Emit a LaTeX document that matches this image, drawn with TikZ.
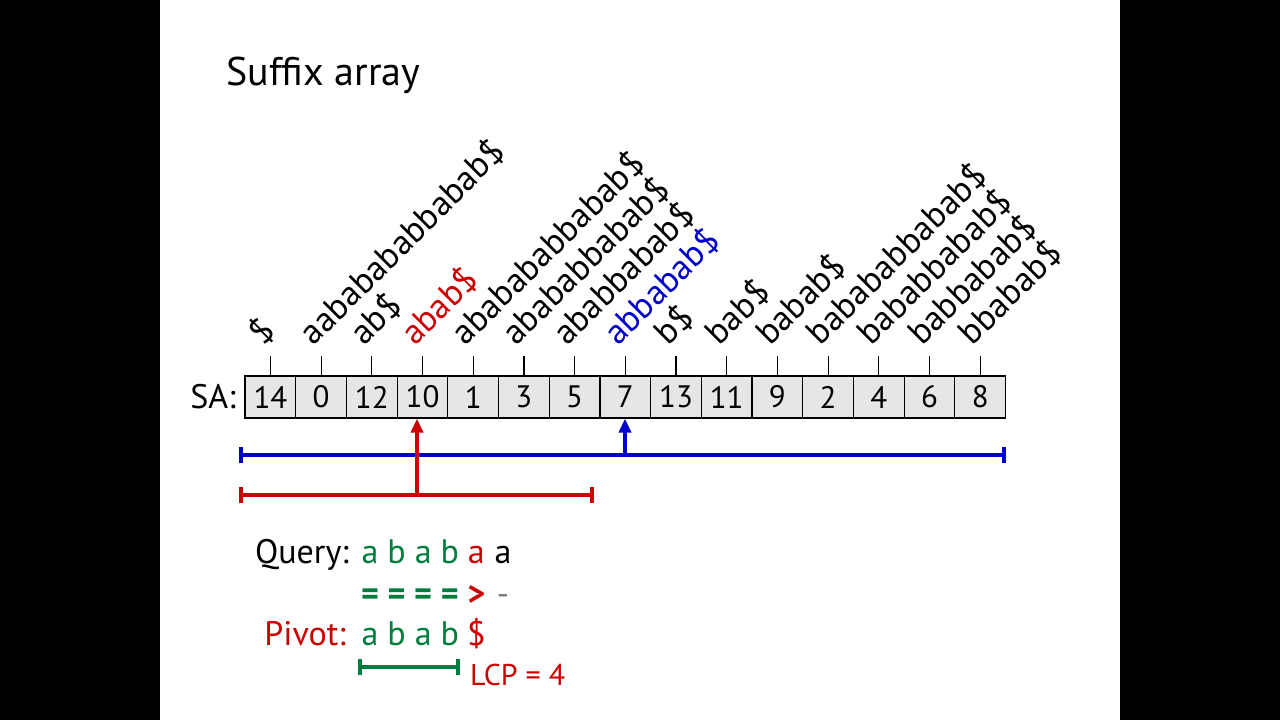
\documentclass[tikz,border=0pt]{standalone}
\usepackage{fontspec}
\setmainfont{PT Sans}
\usetikzlibrary{arrows.meta}
\definecolor{myred}{RGB}{204,0,0}
\definecolor{myblue}{RGB}{0,0,204}
\definecolor{mygreen}{RGB}{0,125,60}
\definecolor{mygray}{RGB}{230,230,230}
\begin{document}
\begin{tikzpicture}[x=1pt,y=-1pt,
  cell/.style={draw,line width=1.2pt,fill=mygray,minimum width=50.7pt,minimum height=42pt,inner sep=0pt,font=\fontsize{31}{31}\selectfont},
  suf/.style={rotate=45,anchor=base west,inner sep=0pt,font=\fontsize{35}{35}\selectfont},
  big/.style={font=\fontsize{34}{34}\selectfont,inner sep=0pt},
  brk/.style={line width=3.5pt},
  arr/.style={line width=3.5pt,-{Triangle[length=14pt,width=12pt]}}]
\useasboundingbox[fill=black] (0,0) rectangle (1280,720);
\fill[white] (160,0) rectangle (1120,720);
\node[anchor=base west,inner sep=0pt,font=\fontsize{40}{40}\selectfont] (title) at (226,85) {Suffix array};
\node[big,anchor=east] (sa) at (236,397) {SA:};
\foreach \v/\s [count=\i from 0] in {14/\$,0/aababababbabab\$,12/ab\$,10/abab\$,1/ababababbabab\$,3/abababbabab\$,5/ababbabab\$,7/abbabab\$,13/b\$,11/bab\$,9/babab\$,2/babababbabab\$,4/bababbabab\$,6/babbabab\$,8/bbabab\$}{
  \node[cell] (c\i) at (270.4+50.7*\i,397) {\v};
  \coordinate (t\i) at (270.4+50.7*\i,356);
  \draw[line width=1.2pt] (c\i.north) -- (t\i);
  \ifnum\i=3 \def\cl{myred}\else\ifnum\i=7 \def\cl{myblue}\else\def\cl{black}\fi\fi
  \node[suf,text=\cl] (s\i) at (263+50.7*\i,347) {\s};
}
% blue bracket
\coordinate (bl) at (241,455); \coordinate (br) at (1004,455); \coordinate (bm) at (625,455);
\draw[brk,myblue] (bl) -- (br);
\draw[brk,myblue] ([yshift=-8pt]bl) -- ([yshift=8pt]bl);
\draw[brk,myblue] ([yshift=-8pt]br) -- ([yshift=8pt]br);
\draw[arr,myblue] (bm) -- (bm|-c7.south);
% red bracket
\coordinate (rl) at (241,495); \coordinate (rr) at (592,495); \coordinate (rm) at (417,495);
\draw[brk,myred] (rl) -- (rr);
\draw[brk,myred] ([yshift=-8pt]rl) -- ([yshift=8pt]rl);
\draw[brk,myred] ([yshift=-8pt]rr) -- ([yshift=8pt]rr);
\draw[arr,myred] (rm) -- (rm|-c3.south);
% query
\node[big,anchor=base east] (q) at (349,563) {Query:};
\node[big,anchor=base east,text=myred] (p) at (346,645) {Pivot:};
\foreach \ch/\cl [count=\i from 0] in {a/mygreen,b/mygreen,a/mygreen,b/mygreen,a/myred,a/black}{
  \node[big,anchor=base,text=\cl] (q\i) at (370+26.6*\i,563) {\ch};}
\foreach \ch/\cl [count=\i from 0] in {=/mygreen,=/mygreen,=/mygreen,=/mygreen,>/myred}{
  \node[big,anchor=base,text=\cl] (e\i) at (370+26.6*\i,605) {\textbf{\ch}};}
\node[big,text=gray,anchor=base] (e5) at (503,605) {-};
\foreach \ch/\cl [count=\i from 0] in {a/mygreen,b/mygreen,a/mygreen,b/mygreen,\$/myred}{
  \node[big,anchor=base,text=\cl] (p\i) at (370+26.6*\i,645) {\ch};}
\coordinate (gl) at (360,667); \coordinate (gr) at (458,667);
\draw[brk,mygreen] (gl) -- (gr);
\draw[brk,mygreen] ([yshift=-8pt]gl) -- ([yshift=8pt]gl);
\draw[brk,mygreen] ([yshift=-8pt]gr) -- ([yshift=8pt]gr);
\node[anchor=west,inner sep=0pt,text=myred,font=\fontsize{30}{30}\selectfont] (lcp) at (470,675) {LCP = 4};
\end{tikzpicture}
\end{document}
